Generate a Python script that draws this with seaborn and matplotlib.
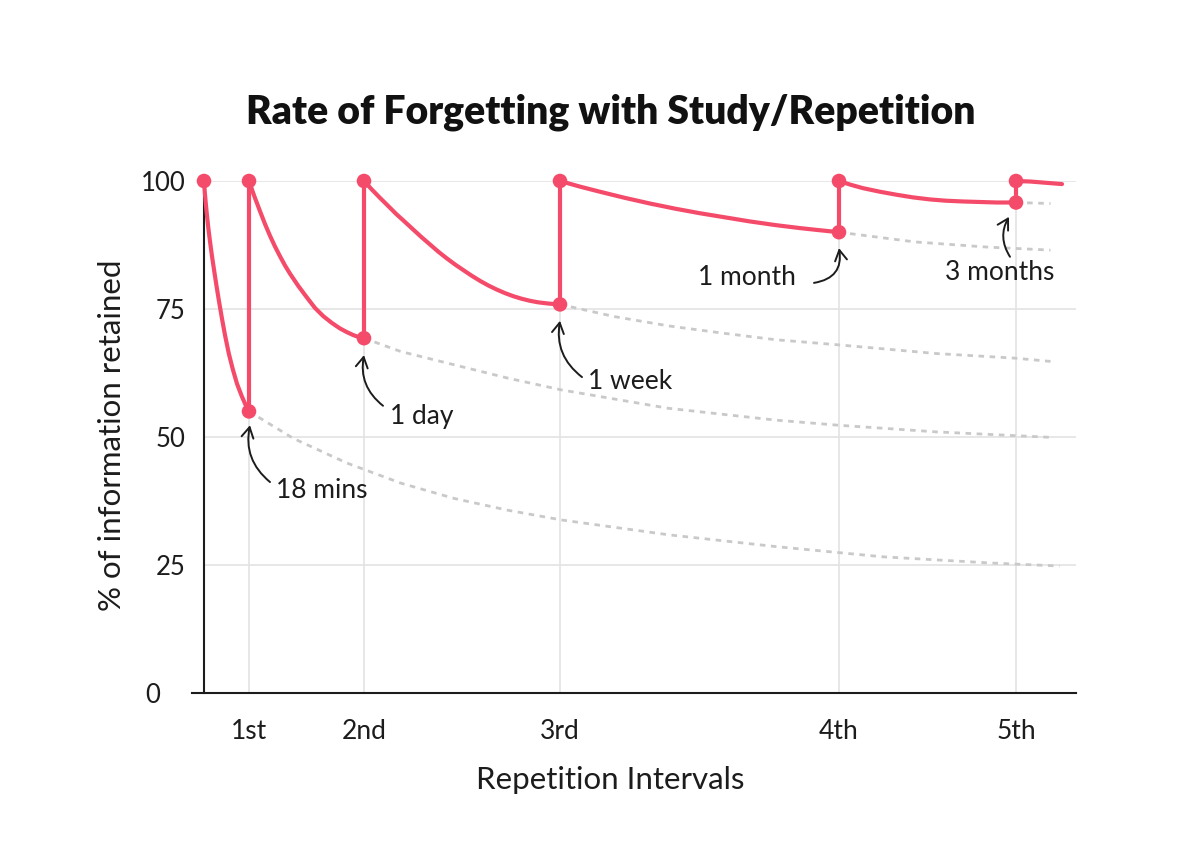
import numpy as np
import pandas as pd
import matplotlib
matplotlib.use("Agg")
import matplotlib.pyplot as plt
import matplotlib.transforms as mtransforms
import seaborn as sns

# ---------------- data ----------------
rep_labels = ["1st", "2nd", "3rd", "4th", "5th"]
rep_time = [45, 160, 356, 635, 812]          # time of each repetition (arbitrary units)
y_ticks = [0, 25, 50, 75, 100]

# solid retention path (with the jumps back to 100 at every repetition)
seg1_x = [0, 0.8, 1.8, 3, 4.4, 6, 8, 10.3, 12.6, 15, 18, 21, 24.8, 28.7, 33, 37.7, 41.5, 45]
seg1_y = [100, 97.8, 95.6, 93.2, 90.7, 88.2, 85.3, 82.3, 79.4, 76.5, 73.1, 69.9, 66.3, 63.3,
          60.4, 58.0, 56.3, 55.0]
seg2_x = [45, 50, 56, 61, 66, 71, 76, 81, 86, 94.3, 102.7, 111, 119.3, 127.7, 136, 142.7,
          149.3, 155, 160]
seg2_y = [100, 97.2, 94.1, 91.6, 89.3, 87.2, 85.3, 83.5, 81.9, 79.5, 77.3, 75.2, 73.6, 72.3,
          71.2, 70.5, 69.9, 69.5, 69.3]
seg3_x = [160, 168, 176, 184.3, 192.5, 201, 209.3, 217.7, 226, 234.3, 242.7, 251, 259.3,
          267.7, 276, 284.3, 292.7, 301, 309.3, 317.7, 326, 334.3, 345, 356]
seg3_y = [100, 98.3, 96.7, 95.1, 93.5, 92.0, 90.5, 89.0, 87.6, 86.2, 84.9, 83.7, 82.6,
          81.5, 80.5, 79.6, 78.8, 78.1, 77.5, 77.0, 76.6, 76.3, 76.05, 75.9]
seg4_x = [356, 376, 396, 421, 446, 471, 496, 521, 546, 571, 596, 615, 635]
seg4_y = [100, 98.9, 97.9, 96.7, 95.6, 94.6, 93.7, 92.9, 92.1, 91.4, 90.8, 90.4, 90.0]
seg5_x = [635, 647, 659, 676, 693, 709, 726, 742, 759, 776, 793, 812]
seg5_y = [100, 99.25, 98.6, 97.9, 97.3, 96.8, 96.4, 96.15, 96.0, 95.9, 95.8, 95.8]
seg6_x = [812, 826, 858]
seg6_y = [100, 99.9, 99.4]

# marked points
dot_x = [0, 45, 45, 160, 160, 356, 356, 635, 635, 812, 812]
dot_y = [100, 55.0, 100, 69.3, 100, 75.9, 100, 90.0, 100, 95.8, 100]

# dashed "without review" continuations
fade1_x = [45, 89.6, 143.1, 196.7, 250.2, 303.8, 357.4, 464.5, 571.6, 678.7, 785.9, 855.5]
fade1_y = [55.0, 49.7, 44.9, 41.0, 38.0, 35.7, 33.8, 30.9, 28.6, 26.6, 25.4, 24.8]
fade2_x = [160, 196.7, 250.2, 303.8, 357.4, 464.5, 571.6, 634.3, 732.3, 850.2]
fade2_y = [69.3, 66.7, 64.1, 61.5, 59.2, 55.6, 53.3, 52.3, 51.0, 49.9]
fade3_x = [356, 410.9, 464.5, 518.1, 571.6, 634.3, 732.3, 811, 850.2]
fade3_y = [75.9, 73.5, 71.7, 70.3, 69.0, 68.0, 66.3, 65.4, 64.7]
fade4_x = [635, 711, 782.6, 846.5]
fade4_y = [90.0, 88.1, 87.1, 86.5]
fade5_x = [812, 846.5]
fade5_y = [95.8, 95.6]

# ---------------- style ----------------
sns.set_theme(style="white")
plt.rcParams["font.family"] = ["Lato", "DejaVu Sans"]

RED = "#F54B6A"
GREY_DASH = "#C9C9C9"
GRID = "#E3E3E3"
INK = "#1C1C1C"

fig = plt.figure(figsize=(12, 8.52), dpi=100)
fig.patch.set_facecolor("white")
ax = fig.add_axes([192 / 1200, (852 - 693) / 852, (1076 - 192) / 1200, 512 / 852])
ax.set_facecolor("white")
ax.set_xlim(-12, 872)
ax.set_ylim(0, 100)

# grid
x0_frac = (0 - (-12)) / 884
for yv in y_ticks[1:]:
    ax.axhline(yv, xmin=x0_frac, xmax=1, color=GRID, lw=1.2, zorder=0)
for xv in rep_time:
    ax.axvline(xv, ymin=0, ymax=1, color=GRID, lw=1.2, zorder=0)

# dashed fades
for fx, fy in [(fade1_x, fade1_y), (fade2_x, fade2_y), (fade3_x, fade3_y),
               (fade4_x, fade4_y), (fade5_x, fade5_y)]:
    sns.lineplot(x=fx, y=fy, ax=ax, color=GREY_DASH, lw=2.0,
                 linestyle=(0, (2.0, 2.0)), sort=False, estimator=None, zorder=1)

# red path: each decay segment joined to the next by the vertical jump to 100
path_x = seg1_x + seg2_x + seg3_x + seg4_x + seg5_x + seg6_x
path_y = seg1_y + seg2_y + seg3_y + seg4_y + seg5_y + seg6_y
sns.lineplot(x=path_x, y=path_y, ax=ax, color=RED, lw=3.0, sort=False,
             estimator=None, zorder=3, clip_on=False, solid_joinstyle="round",
             solid_capstyle="round")
sns.scatterplot(x=dot_x, y=dot_y, ax=ax, color=RED, s=110, edgecolor="none",
                zorder=4, clip_on=False)

# spines
for s in ["top", "right"]:
    ax.spines[s].set_visible(False)
ax.spines["left"].set_position(("data", 0))
ax.spines["left"].set_color(INK)
ax.spines["left"].set_linewidth(1.5)
ax.spines["bottom"].set_color(INK)
ax.spines["bottom"].set_linewidth(1.5)

ax.set_xticks(rep_time)
ax.set_xticklabels(rep_labels, fontsize=19, color=INK)
ax.set_yticks(y_ticks)
ax.set_yticklabels([str(v) for v in y_ticks], fontsize=18.5, color=INK)
ax.tick_params(axis="x", length=0, pad=19)
ax.tick_params(axis="y", length=0, pad=13)
ax.set_xlabel("")
ax.set_ylabel("")
# the "0" label sits further left in the reference
zero_lab = ax.get_yticklabels()[0]
zero_lab.set_transform(zero_lab.get_transform() +
                       mtransforms.ScaledTranslation(-0.26, 0, fig.dpi_scale_trans))

# annotations
notes = [("18 mins", (72, 39.5), (66, 41.2), (46, 52.3), -0.3),
         ("1 day", (186, 54.1), (179, 56.1), (160, 66.0), -0.3),
         ("1 week", (384, 60.9), (378, 61.7), (356, 72.7), -0.3),
         ("1 month", (494, 81.1), (610, 80.1), (635, 86.9), 0.5),
         ("3 months", (741, 82.2), (806, 85.2), (805, 93.0), -0.3)]
for txt, tpos, tail, head, rad in notes:
    ax.text(tpos[0], tpos[1], txt, fontsize=19, color=INK, ha="left", va="center")
    ax.annotate("", xy=head, xytext=tail,
                arrowprops=dict(arrowstyle="->,head_length=0.42,head_width=0.24",
                                connectionstyle=f"arc3,rad={rad}", color=INK,
                                lw=1.4, shrinkA=0, shrinkB=0, mutation_scale=18))

fig.text(611 / 1200, 1 - 112 / 852, "Rate of Forgetting with Study/Repetition",
         fontsize=28.2, fontweight="heavy", color="#111111", ha="center", va="center")
fig.text(610 / 1200, 1 - 780 / 852, "Repetition Intervals", fontsize=22.5,
         color=INK, ha="center", va="center")
fig.text(112 / 1200, 1 - 435 / 852, "% of information retained", fontsize=22.5,
         color=INK, ha="center", va="center", rotation=90)

fig.savefig("out.png", dpi=100, facecolor="white")
